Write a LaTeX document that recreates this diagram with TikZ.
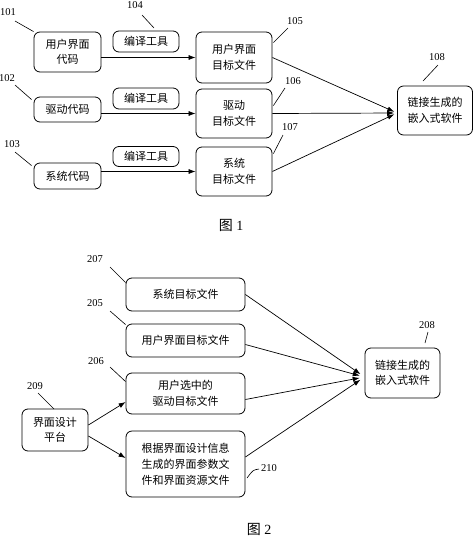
\documentclass[tikz,border=0pt]{standalone}
\usepackage{fontspec}
\setmainfont{Liberation Serif}
\newfontfamily\cjk{Noto Sans CJK SC}
\usetikzlibrary{arrows.meta}
\begin{document}
\begin{tikzpicture}[x=1pt,y=-1pt,
  box/.style={draw,rounded corners=6pt,line width=0.8pt,align=center,inner sep=0pt,
    font=\cjk\fontsize{11}{15.5}\selectfont},
  num/.style={font=\fontsize{10.5}{12}\selectfont,inner sep=0pt},
  lead/.style={line width=0.6pt},
  arr/.style={line width=0.7pt,-{Latex[length=7pt,width=5pt]}},
  figcap/.style={font=\fontsize{14}{16}\selectfont,inner sep=0pt}]
\useasboundingbox (0,0) rectangle (474,539);
% ---------- Figure 1 ----------
\node[box,minimum width=67pt,minimum height=40pt] (n101) at (67.5,52) {用户界面\\代码};
\node[box,minimum width=67pt,minimum height=25pt] (n102) at (67.5,109.5) {驱动代码};
\node[box,minimum width=67pt,minimum height=26pt] (n103) at (67.5,176) {系统代码};
\node[box,minimum width=66pt,minimum height=21pt] (t1) at (146,41.5) {编译工具};
\node[box,minimum width=66pt,minimum height=21pt] (t2) at (146,98.5) {编译工具};
\node[box,minimum width=66pt,minimum height=20pt] (t3) at (146,156.5) {编译工具};
\node[box,minimum width=76pt,minimum height=51pt] (n105) at (234,57.5) {用户界面\\目标文件};
\node[box,minimum width=76pt,minimum height=49pt] (n106) at (234,113.5) {驱动\\目标文件};
\node[box,minimum width=76pt,minimum height=49pt] (n107) at (234,171.5) {系统\\目标文件};
\node[box,minimum width=75pt,minimum height=49pt] (n108) at (435,110.5) {链接生成的\\嵌入式软件};

\draw[arr] (n101.east |- n105.west) -- (n105.west);
\draw[arr] (n102.east |- n106.west) -- (n106.west);
\draw[arr] (n103.east |- n107.west) -- (n107.west);
\draw[arr,shorten >=3pt] (n105.east) -- ([yshift=-2.5pt]n108.west);
\draw[arr,shorten >=3pt] (n106.east) -- ([yshift=-2.5pt]n108.west);
\draw[arr,shorten >=3pt] (n107.east) -- ([yshift=-2.5pt]n108.west);

\node[num] (l101) at (8,12) {101};
\node[num] (l102) at (7,78) {102};
\node[num] (l103) at (12,144) {103};
\node[num] (l104) at (135,5) {104};
\node[num] (l105) at (295,21) {105};
\node[num] (l106) at (293,81) {106};
\node[num] (l107) at (290,127) {107};
\node[num] (l108) at (437,57) {108};
\coordinate (a101) at (15,21); \draw[lead] (a101) -- (n101.north west);
\coordinate (a102) at (15,85); \draw[lead] (a102) -- ([shift={(-2pt,-3pt)}]n102.north west);
\coordinate (a103) at (15,152); \draw[lead] (a103) -- ([shift={(-2pt,-3pt)}]n103.north west);
\coordinate (a104) at (142,15); \coordinate (b104) at (154,28); \draw[lead] (a104) -- (b104);
\coordinate (a105) at (288,28); \draw[lead] (a105) -- ([shift={(1pt,-11pt)}]n105.north east);
\coordinate (a106) at (285,88); \draw[lead] (a106) -- ([shift={(1pt,-17pt)}]n106.north east);
\coordinate (a107) at (283,135); \draw[lead] (a107) -- ([shift={(1pt,-7pt)}]n107.north east);
\coordinate (a108) at (438,65); \coordinate (b108) at (423,81); \draw[lead] (a108) -- (b108);

\node[figcap] (f1) at (231,225) {{\cjk 图} 1};

% ---------- Figure 2 ----------
\node[box,minimum width=119pt,minimum height=33pt] (n207) at (185.5,294.5) {系统目标文件};
\node[box,minimum width=119pt,minimum height=33pt] (n205) at (185.5,340.5) {用户界面目标文件};
\node[box,minimum width=119pt,minimum height=41pt] (n206) at (185.5,393.5) {用户选中的\\驱动目标文件};
\node[box,minimum width=119pt,minimum height=66pt,font=\cjk\fontsize{11}{16}\selectfont] (n210) at (185.5,464) {根据界面设计信息\\生成的界面参数文\\件和界面资源文件};
\node[box,minimum width=66pt,minimum height=42pt] (n209) at (55,430) {界面设计\\平台};
\node[box,minimum width=75pt,minimum height=50pt] (n208) at (402.5,373) {链接生成的\\嵌入式软件};

\draw[arr,shorten >=5pt] (n207.east) -- ([yshift=-4pt]n208.west);
\draw[arr,shorten >=5pt] ([yshift=-4pt]n205.east) -- ([yshift=-4pt]n208.west);
\draw[arr,shorten >=5pt] ([yshift=-6pt]n206.east) -- ([yshift=-4pt]n208.west);
\draw[arr,shorten >=5pt] ([yshift=7pt]n210.east) -- ([yshift=-4pt]n208.west);
\draw[arr] ([yshift=5pt]n209.east) -- ([yshift=-8.5pt]n206.west);
\draw[arr] ([yshift=-6pt]n209.east) -- ([yshift=6pt]n210.west);

\node[num] (l207) at (95,259) {207};
\node[num] (l205) at (95,303) {205};
\node[num] (l206) at (96,361) {206};
\node[num] (l209) at (35,386) {209};
\node[num] (l208) at (427,325) {208};
\node[num] (l210) at (269,468) {210};
\coordinate (a207) at (110,267); \draw[lead] (a207) -- ([shift={(0pt,-5pt)}]n207.north west);
\coordinate (a205) at (110,311); \draw[lead] (a205) -- ([shift={(0pt,-1pt)}]n205.north west);
\coordinate (a206) at (110,367); \draw[lead] (a206) -- ([shift={(0pt,-9pt)}]n206.north west);
\coordinate (a209) at (38,393); \coordinate (b209) at (54,409); \draw[lead] (a209) -- (b209);
\coordinate (a208) at (428,332); \coordinate (b208) at (425,343); \draw[lead] (a208) -- (b208);
\coordinate (a210) at (259,469); \coordinate (b210) at (247,478);
\draw[lead] (a210) .. controls (253,470) .. (b210);

\node[figcap] (f2) at (259,529) {{\cjk 图} 2};
\end{tikzpicture}
\end{document}
